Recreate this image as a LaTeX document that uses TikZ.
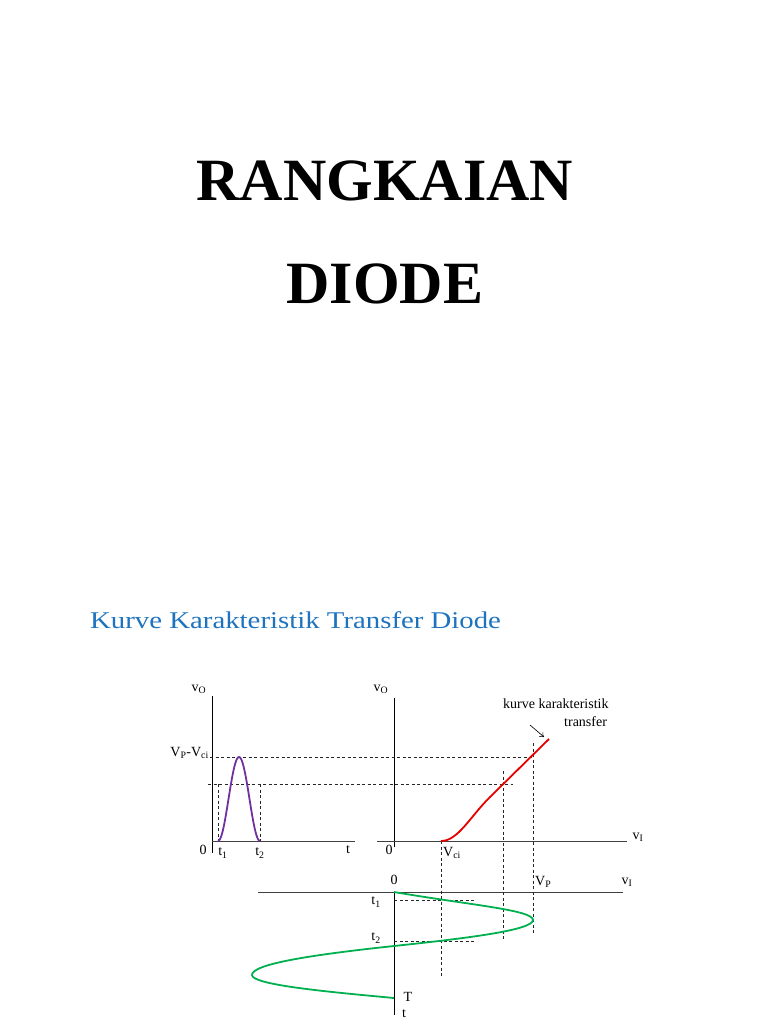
\documentclass[tikz,border=0pt]{standalone}
\usepackage{fontspec}
\setmainfont{Liberation Serif}
\usetikzlibrary{arrows.meta}
\definecolor{subblue}{RGB}{30,115,190}
\definecolor{cpurple}{RGB}{112,48,160}
\definecolor{cred}{RGB}{230,0,0}
\definecolor{cgreen}{RGB}{0,176,80}
\begin{document}
\begin{tikzpicture}[x=1pt,y=-1pt,
  lab/.style={font=\fontsize{14}{14}\selectfont, inner sep=0pt},
  ax/.style={line width=0.9pt, black},
  hax/.style={line width=0.9pt, black!75},
  dsh/.style={dash pattern=on 3pt off 2.5pt, line width=0.8pt, black!85},
  crv/.style={line width=1.8pt}]
\useasboundingbox (0,0) rectangle (768,1024);
% titles
\node[anchor=base, inner sep=0pt, font=\fontsize{60}{60}\selectfont\bfseries] (title1) at (385,201) {RANGKAIAN};
\node[anchor=base, inner sep=0pt, font=\fontsize{60}{60}\selectfont\bfseries] (title2) at (385,303) {DIODE};
\node[anchor=base west, inner sep=0pt, text=subblue, font=\fontsize{24}{24}\selectfont] (sub) at (90,628) {\scalebox{1.2}[1]{Kurve Karakteristik Transfer Diode}};
% coordinates
\coordinate (A1t) at (212,696); \coordinate (A1b) at (212,853);
\coordinate (H1l) at (212,841); \coordinate (H1r) at (355,841);
\coordinate (A2t) at (394,698); \coordinate (A2b) at (394,847);
\coordinate (H2l) at (377,841); \coordinate (H2r) at (627,841);
\coordinate (H3l) at (258,892); \coordinate (H3r) at (623,892);
\coordinate (A3t) at (394,892); \coordinate (A3b) at (394,1015);
% axes
\draw[ax] (A1t) -- (A1b);
\draw[hax] (H1l) -- (H1r);
\draw[ax] (A2t) -- (A2b);
\draw[hax] (H2l) -- (H2r);
\draw[hax] (H3l) -- (H3r);
\draw[ax] (A3t) -- (A3b);
% dashed guides
\coordinate (d1a) at (210,757); \coordinate (d1b) at (533,757);
\coordinate (d2a) at (208,784); \coordinate (d2b) at (513,784);
\draw[dsh] (d1a) -- (d1b);
\draw[dsh] (d2a) -- (d2b);
\coordinate (v1a) at (218,784); \coordinate (v1b) at (218,841);
\coordinate (v2a) at (260,784); \coordinate (v2b) at (260,841);
\draw[dsh] (v1a) -- (v1b);
\draw[dsh] (v2a) -- (v2b);
\coordinate (v3a) at (441,841); \coordinate (v3b) at (441,976);
\coordinate (v4a) at (503,771); \coordinate (v4b) at (503,941);
\coordinate (v5a) at (533,743); \coordinate (v5b) at (533,935);
\draw[dsh] (v3a) -- (v3b);
\draw[dsh] (v4a) -- (v4b);
\draw[dsh] (v5a) -- (v5b);
\coordinate (h1a) at (394,900); \coordinate (h1b) at (476,900);
\coordinate (h2a) at (394,941); \coordinate (h2b) at (476,941);
\draw[dsh] (h1a) -- (h1b);
\draw[dsh] (h2a) -- (h2b);
% purple pulse
\draw[crv, cpurple, line join=round] plot[domain=0:1, samples=60, smooth] ({218+42*\x},{841-84*(1-cos(360*\x))/2});
% red transfer curve
\draw[crv, cred, line join=round] (441,841) .. controls (458,841) and (470,816.7) .. (490,797) -- (549,739);
% green input
\draw[crv, cgreen] (394,892) .. controls (470,905) and (533,910) .. (533,920)
  .. controls (533,930) and (469,938) .. (394,946)
  .. controls (300,956) and (252,965) .. (252,975)
  .. controls (252,985) and (330,992) .. (394,998);
% labels left
\node[lab] (vo1) at (199,689) {v\textsubscript{O}};
\node[lab, anchor=east] (vpvci) at (209,753) {V\textsubscript{P}-V\textsubscript{ci}};
\node[lab] (z1) at (203,850) {0};
\node[lab] (t1a) at (223,853) {t\textsubscript{1}};
\node[lab] (t2a) at (260,853) {t\textsubscript{2}};
\node[lab] (ta) at (348,850) {t};
% labels right
\node[lab] (vo2) at (381,689) {v\textsubscript{O}};
\node[lab] (vi1) at (638,837) {v\textsubscript{I}};
\node[lab] (z2) at (389,850) {0};
\node[lab, anchor=west] (vci) at (443,853) {V\textsubscript{ci}};
\node[lab, anchor=west] (k1) at (503,704) {kurve karakteristik};
\node[lab, anchor=west] (k2) at (564,722) {transfer};
\coordinate (arS) at (530,725); \coordinate (arE) at (544,737);
\draw[line width=0.6pt, -{To[length=4pt,width=6pt]}] (arS) -- (arE);
% labels bottom
\node[lab] (z3) at (394,880) {0};
\node[lab, anchor=west] (vp) at (535,882) {V\textsubscript{P}};
\node[lab] (vi2) at (627,882) {v\textsubscript{I}};
\node[lab] (t1b) at (376,902) {t\textsubscript{1}};
\node[lab] (t2b) at (376,938) {t\textsubscript{2}};
\node[lab] (TT) at (408,997) {T};
\node[lab] (tb) at (404,1014) {t};
\end{tikzpicture}
\end{document}
